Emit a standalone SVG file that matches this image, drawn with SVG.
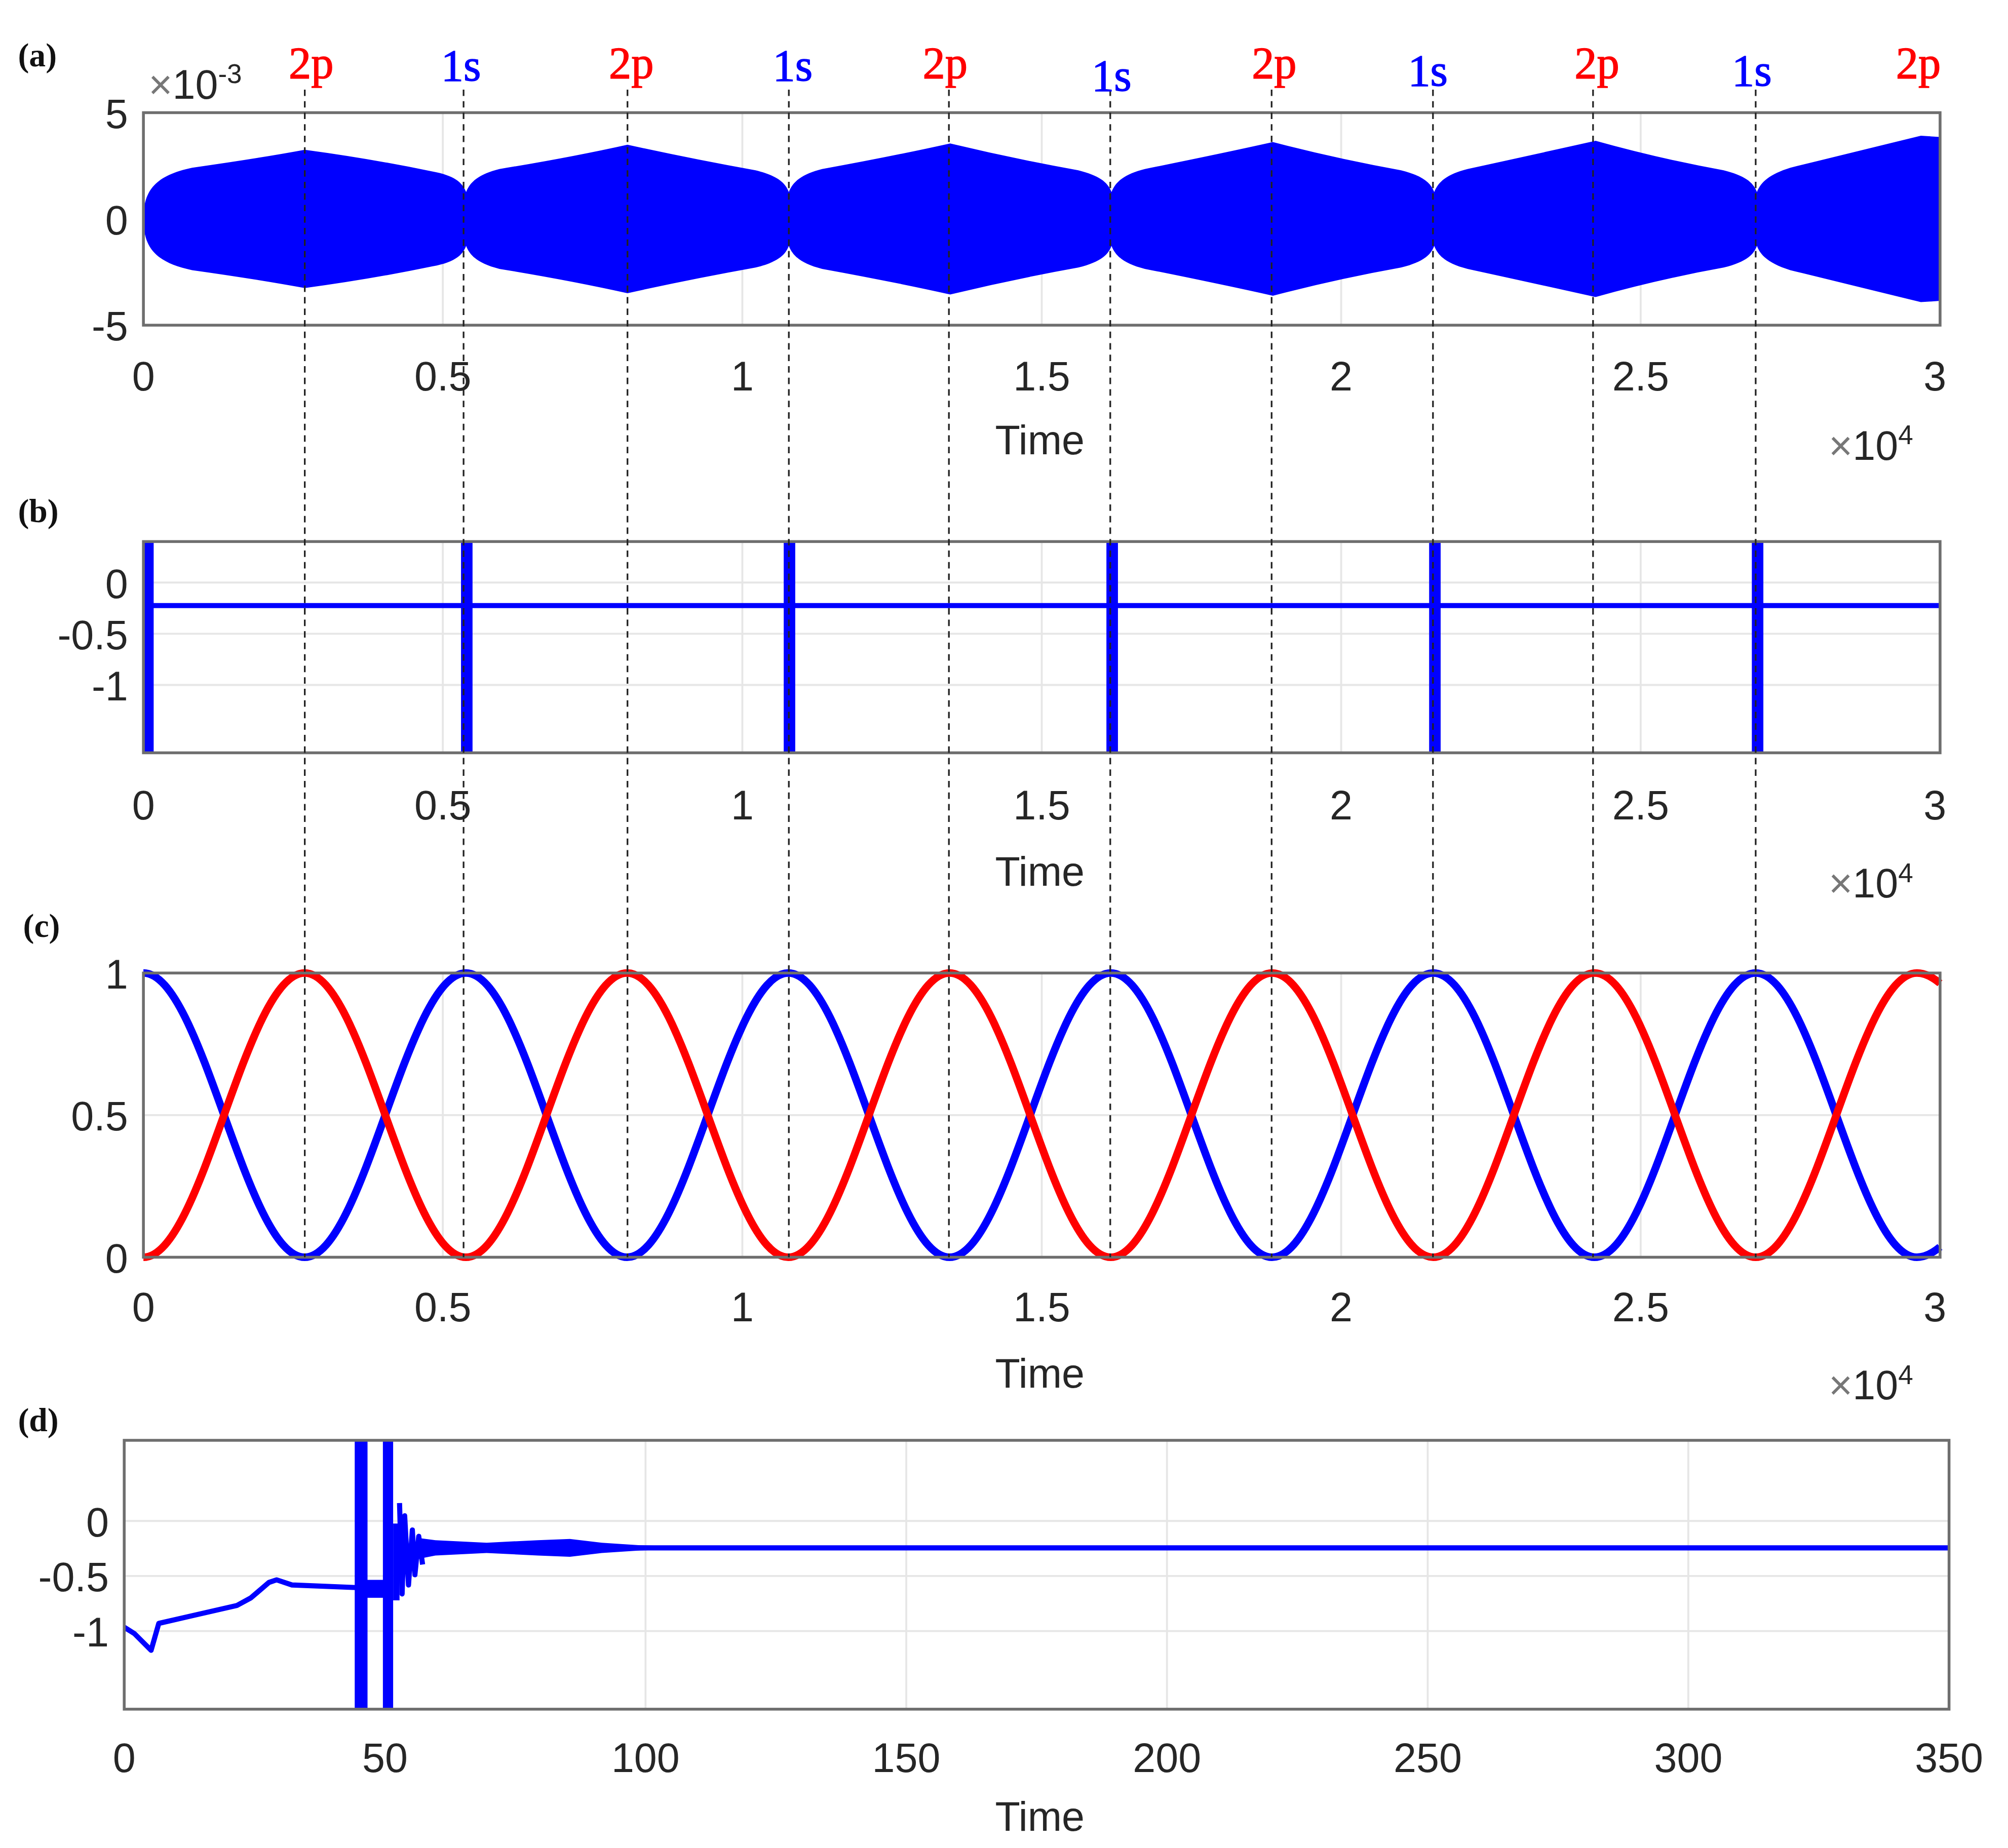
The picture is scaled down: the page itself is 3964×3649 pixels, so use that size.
<svg xmlns="http://www.w3.org/2000/svg" width="3964" height="3649" viewBox="0 0 3964 3649">
<style>
.ax{fill:none;stroke:#6e6e6e;stroke-width:2.2}
.gr{stroke:#e6e6e6;stroke-width:1.5}
.dash{stroke:#222;stroke-width:1.3;stroke-dasharray:5,4;fill:none}
.t{font-family:"Liberation Sans",Arial,sans-serif;font-size:32px;fill:#262626}
.tc{text-anchor:middle}
.tr{text-anchor:end}
.pl{font-family:"Liberation Serif","Times New Roman",serif;font-size:26px;font-weight:bold;fill:#111}
.lab{font-family:"Liberation Serif","Times New Roman",serif;font-size:35px;text-anchor:middle;stroke-width:0.6}
.red{fill:#ff0000;stroke:#ff0000}.blue{fill:#0000ff;stroke:#0000ff}
</style>
<rect width="3964" height="3649" fill="#fff"/>
<g transform="scale(2.528)">
<g id="panel-a">
<g class="gr"><line x1="112" y1="171" x2="1515" y2="171"/><line x1="345.8" y1="88" x2="345.8" y2="254"/><line x1="579.7" y1="88" x2="579.7" y2="254"/><line x1="813.5" y1="88" x2="813.5" y2="254"/><line x1="1047.3" y1="88" x2="1047.3" y2="254"/><line x1="1281.2" y1="88" x2="1281.2" y2="254"/></g>
<path fill="#0000ff" d="M112,171 C112,148 122,137 150,131 Q200,124 238,117 Q290,124 338,134 C354,137 361,142 364,150 C367,142 374,136 390,132 Q445,123 490,113 Q540,124 590,133 C606,137 613,142 616,150 C619,142 626,136 642,132 Q697,122 742,112 Q792,124 842,133 C858,137 865,142 868,150 C871,142 878,136 894,132 Q949,121 994,111 Q1044,124 1094,133 C1110,137 1117,142 1120,150 C1123,142 1130,136 1146,132 Q1201,120 1246,110 Q1296,124 1346,133 C1362,137 1369,142 1372,150 C1375,142 1382,136 1398,131 Q1455,117 1500,106 L1515,107 L1515,235 L1500,236 Q1455,225 1398,211 C1382,206 1375,200 1372,192 C1369,200 1362,205 1346,209 Q1296,218 1246,232 Q1201,222 1146,210 C1130,206 1123,200 1120,192 C1117,200 1110,205 1094,209 Q1044,218 994,231 Q949,221 894,210 C878,206 871,200 868,192 C865,200 858,205 842,209 Q792,218 742,230 Q697,220 642,210 C626,206 619,200 616,192 C613,200 606,205 590,209 Q540,218 490,229 Q445,219 390,210 C374,206 367,200 364,192 C361,200 354,205 338,208 Q290,218 238,225 Q200,218 150,211 C122,205 112,194 112,171 Z"/>
<rect class="ax" x="112" y="88" width="1403" height="166"/>
<text class="t tr" x="100" y="100">5</text><text class="t tr" x="100" y="183">0</text><text class="t tr" x="100" y="266">-5</text>
<text class="t" x="116" y="77"><tspan fill="#777">×</tspan>10<tspan font-size="21" dy="-12">-3</tspan></text>
<text class="t tc" x="112" y="305">0</text><text class="t tc" x="345.8" y="305">0.5</text><text class="t tc" x="579.7" y="305">1</text><text class="t tc" x="813.5" y="305">1.5</text><text class="t tc" x="1047.3" y="305">2</text><text class="t tc" x="1281.2" y="305">2.5</text><text class="t tc" x="1511" y="305">3</text>
<text class="t tc" x="812" y="355" font-size="35">Time</text>
<text class="t" x="1428" y="359"><tspan fill="#777">×</tspan>10<tspan font-size="21" dy="-12">4</tspan></text>
<text class="pl" x="14" y="52">(a)</text>
</g>
<g id="panel-b">
<g class="gr"><line x1="112" y1="455" x2="1515" y2="455"/><line x1="112" y1="495" x2="1515" y2="495"/><line x1="112" y1="535" x2="1515" y2="535"/><line x1="345.8" y1="423" x2="345.8" y2="588"/><line x1="579.7" y1="423" x2="579.7" y2="588"/><line x1="813.5" y1="423" x2="813.5" y2="588"/><line x1="1047.3" y1="423" x2="1047.3" y2="588"/><line x1="1281.2" y1="423" x2="1281.2" y2="588"/></g>
<line x1="112" y1="473" x2="1515" y2="473" stroke="#0000ff" stroke-width="4"/>
<g fill="#0000ff"><rect x="112" y="423" width="8" height="165"/><rect x="360" y="423" width="9" height="165"/><rect x="612" y="423" width="9" height="165"/><rect x="864" y="423" width="9" height="165"/><rect x="1116" y="423" width="9" height="165"/><rect x="1368" y="423" width="9" height="165"/></g>
<rect class="ax" x="112" y="423" width="1403" height="165"/>
<text class="t tr" x="100" y="467">0</text><text class="t tr" x="100" y="507">-0.5</text><text class="t tr" x="100" y="547">-1</text>
<text class="t tc" x="112" y="640">0</text><text class="t tc" x="345.8" y="640">0.5</text><text class="t tc" x="579.7" y="640">1</text><text class="t tc" x="813.5" y="640">1.5</text><text class="t tc" x="1047.3" y="640">2</text><text class="t tc" x="1281.2" y="640">2.5</text><text class="t tc" x="1511" y="640">3</text>
<text class="t tc" x="812" y="692" font-size="35">Time</text>
<text class="t" x="1428" y="701"><tspan fill="#777">×</tspan>10<tspan font-size="21" dy="-12">4</tspan></text>
<text class="pl" x="14" y="408">(b)</text>
</g>
<g id="panel-c">
<g class="gr"><line x1="112" y1="871" x2="1515" y2="871"/><line x1="345.8" y1="760" x2="345.8" y2="982"/><line x1="579.7" y1="760" x2="579.7" y2="982"/><line x1="813.5" y1="760" x2="813.5" y2="982"/><line x1="1047.3" y1="760" x2="1047.3" y2="982"/><line x1="1281.2" y1="760" x2="1281.2" y2="982"/></g>
<path fill="none" stroke="#0000ff" stroke-width="6" d="M112,760 c45.9,0 80,222 125.9,222 s80,-222 125.9,-222 s80,222 125.9,222 s80,-222 125.9,-222 s80,222 125.9,222 s80,-222 125.9,-222 s80,222 125.9,222 s80,-222 125.9,-222 s80,222 125.9,222 s80,-222 125.9,-222 s80,222 125.9,222 c6,0 12,-3 18,-8"/>
<path fill="none" stroke="#ff0000" stroke-width="6" d="M112,982 c45.9,0 80,-222 125.9,-222 s80,222 125.9,222 s80,-222 125.9,-222 s80,222 125.9,222 s80,-222 125.9,-222 s80,222 125.9,222 s80,-222 125.9,-222 s80,222 125.9,222 s80,-222 125.9,-222 s80,222 125.9,222 s80,-222 125.9,-222 c6,0 12,3 18,8"/>
<rect class="ax" x="112" y="760" width="1403" height="222"/>
<text class="t tr" x="100" y="772">1</text><text class="t tr" x="100" y="883">0.5</text><text class="t tr" x="100" y="994">0</text>
<text class="t tc" x="112" y="1032">0</text><text class="t tc" x="345.8" y="1032">0.5</text><text class="t tc" x="579.7" y="1032">1</text><text class="t tc" x="813.5" y="1032">1.5</text><text class="t tc" x="1047.3" y="1032">2</text><text class="t tc" x="1281.2" y="1032">2.5</text><text class="t tc" x="1511" y="1032">3</text>
<text class="t tc" x="812" y="1084" font-size="35">Time</text>
<text class="t" x="1428" y="1093"><tspan fill="#777">×</tspan>10<tspan font-size="21" dy="-12">4</tspan></text>
<text class="pl" x="18" y="732">(c)</text>
</g>
<g id="panel-d">
<g class="gr"><line x1="97" y1="1188" x2="1522" y2="1188"/><line x1="97" y1="1231" x2="1522" y2="1231"/><line x1="97" y1="1274" x2="1522" y2="1274"/><line x1="300.6" y1="1125" x2="300.6" y2="1335"/><line x1="504.1" y1="1125" x2="504.1" y2="1335"/><line x1="707.7" y1="1125" x2="707.7" y2="1335"/><line x1="911.3" y1="1125" x2="911.3" y2="1335"/><line x1="1114.9" y1="1125" x2="1114.9" y2="1335"/><line x1="1318.4" y1="1125" x2="1318.4" y2="1335"/></g>
<path fill="none" stroke="#0000ff" stroke-width="4" stroke-linejoin="round" d="M97,1271 L105,1276 L118,1289 L124,1268 L150,1262 L185,1254 L196,1248 L210,1236 L216,1234 L228,1238 L278,1240 M312,1174 L314,1245 L316,1184 L319,1238 L322,1195 L324,1230 L327,1200 L330,1222 M330,1209 L1522,1209"/>
<g fill="#0000ff"><rect x="277" y="1125" width="10" height="210"/><rect x="299" y="1125" width="8" height="210"/><rect x="286" y="1234" width="14" height="14"/><rect x="307" y="1190" width="5" height="60"/></g>
<path fill="#0000ff" d="M325,1201 L340,1203 L380,1205 L420,1203 L445,1202 L470,1205 L500,1207 L540,1208 L540,1210 L500,1211 L470,1213 L445,1216 L420,1215 L380,1213 L340,1215 L325,1218 Z"/>
<rect class="ax" x="97" y="1125" width="1425" height="210"/>
<text class="t tr" x="85" y="1200">0</text><text class="t tr" x="85" y="1243">-0.5</text><text class="t tr" x="85" y="1286">-1</text>
<text class="t tc" x="97" y="1384">0</text><text class="t tc" x="300.6" y="1384">50</text><text class="t tc" x="504.1" y="1384">100</text><text class="t tc" x="707.7" y="1384">150</text><text class="t tc" x="911.3" y="1384">200</text><text class="t tc" x="1114.9" y="1384">250</text><text class="t tc" x="1318.4" y="1384">300</text><text class="t tc" x="1522" y="1384">350</text>
<text class="t tc" x="812" y="1430" font-size="35">Time</text>
<text class="pl" x="14" y="1118">(d)</text>
</g>
<g id="connectors" class="dash">
<line x1="238" y1="70" x2="238" y2="982"/><line x1="362" y1="70" x2="362" y2="982"/><line x1="490" y1="70" x2="490" y2="982"/><line x1="616" y1="70" x2="616" y2="982"/><line x1="741" y1="70" x2="741" y2="982"/><line x1="867" y1="70" x2="867" y2="982"/><line x1="993" y1="70" x2="993" y2="982"/><line x1="1119" y1="70" x2="1119" y2="982"/><line x1="1244" y1="70" x2="1244" y2="982"/><line x1="1371" y1="70" x2="1371" y2="982"/>
</g>
<g id="labels">
<text class="lab red" x="243" y="61">2p</text><text class="lab blue" x="360" y="63">1s</text><text class="lab red" x="493" y="61">2p</text><text class="lab blue" x="619" y="63">1s</text><text class="lab red" x="738" y="61">2p</text><text class="lab blue" x="868" y="71">1s</text><text class="lab red" x="995" y="61">2p</text><text class="lab blue" x="1115" y="67">1s</text><text class="lab red" x="1247" y="61">2p</text><text class="lab blue" x="1368" y="67">1s</text><text class="lab red" x="1498" y="61">2p</text>
</g>
</g>
</svg>
